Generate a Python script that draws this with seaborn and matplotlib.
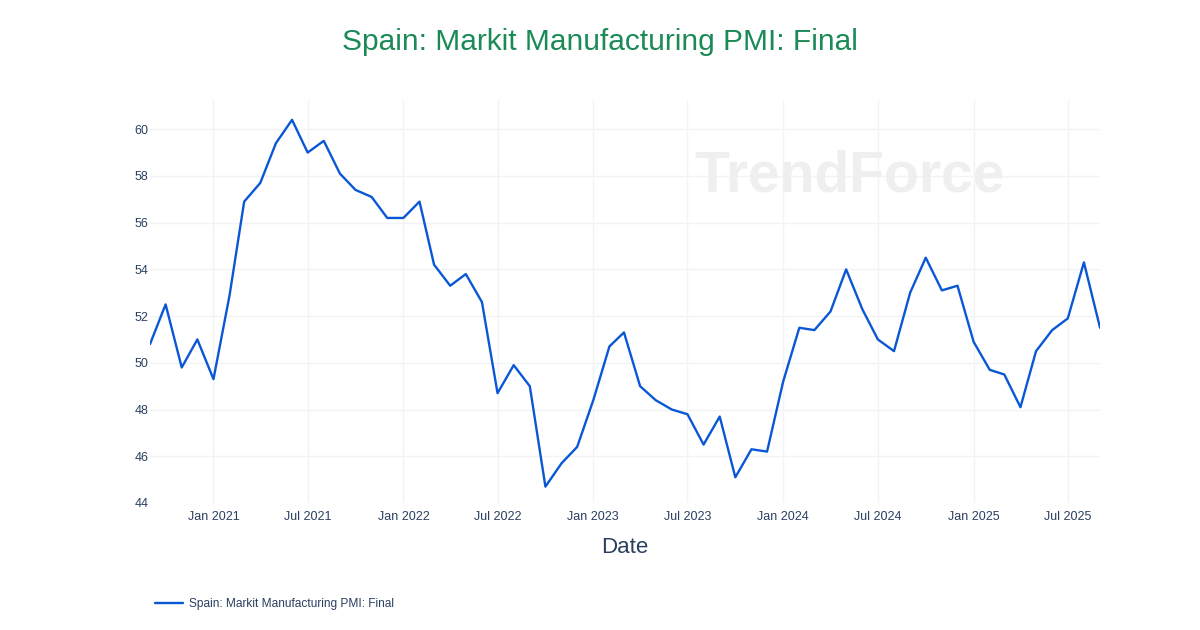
#!/usr/bin/env python3
"""
Line chart of Spain's Markit Manufacturing PMI (final), monthly.
"""
import matplotlib
matplotlib.use("Agg")
import matplotlib.pyplot as plt
import matplotlib.dates as mdates
import seaborn as sns
import pandas as pd

SERIES_NAME = "Spain: Markit Manufacturing PMI: Final"
START_MONTH = "2020-09-01"
PMI = [50.8, 52.5, 49.8, 51.0,
       49.3, 52.9, 56.9, 57.7, 59.4, 60.4, 59.0, 59.5, 58.1, 57.4, 57.1, 56.2,
       56.2, 56.9, 54.2, 53.3, 53.8, 52.6, 48.7, 49.9, 49.0, 44.7, 45.7, 46.4,
       48.4, 50.7, 51.3, 49.0, 48.4, 48.0, 47.8, 46.5, 47.7, 45.1, 46.3, 46.2,
       49.2, 51.5, 51.4, 52.2, 54.0, 52.3, 51.0, 50.5, 53.0, 54.5, 53.1, 53.3,
       50.9, 49.7, 49.5, 48.1, 50.5, 51.4, 51.9, 54.3, 51.5]
Y_TICKS = [44, 46, 48, 50, 52, 54, 56, 58, 60]

TEXT_COLOR = "#2a3f5f"
LINE_COLOR = "#0a57d6"
TITLE_COLOR = "#1b8a56"
GRID_COLOR = "#f2f3f5"

sns.set_theme(style="white")
plt.rcParams["font.family"] = ["Liberation Sans", "DejaVu Sans"]

dates = pd.date_range(START_MONTH, periods=len(PMI), freq="MS")
df = pd.DataFrame({"date": dates, "value": PMI})

fig = plt.figure(figsize=(12, 6.3), dpi=100)
ax = fig.add_axes([0.125, 0.2016, 0.7917, 0.6397])

# faint watermark behind the data
fig.text(0.708, 0.72, "TrendForce", fontsize=41, fontweight="bold",
         color="#efefef", ha="center", va="center", zorder=0)

sns.lineplot(data=df, x="date", y="value", ax=ax, color=LINE_COLOR,
             linewidth=1.7, label=SERIES_NAME)
ax.patch.set_alpha(0)

ax.set_xlim(dates[0], dates[-1])
ax.set_ylim(44, 61.25)
ax.set_yticks(Y_TICKS)
ax.xaxis.set_major_locator(mdates.MonthLocator(bymonth=[1, 7]))
ax.xaxis.set_major_formatter(mdates.DateFormatter("%b %Y"))
ax.tick_params(axis="both", length=0, labelsize=9, labelcolor=TEXT_COLOR)
ax.tick_params(axis="x", pad=6)
ax.tick_params(axis="y", pad=1)
ax.grid(True, color=GRID_COLOR, linewidth=1)
for s in ax.spines.values():
    s.set_visible(False)

ax.set_xlabel("Date", fontsize=16, color=TEXT_COLOR, labelpad=10)
ax.set_ylabel("")
fig.suptitle(SERIES_NAME, fontsize=21.5, color=TITLE_COLOR, y=0.955)

ax.legend(loc="center left", bbox_to_anchor=(0.12, 0.041),
          bbox_transform=fig.transFigure, frameon=False, fontsize=8.6,
          labelcolor=TEXT_COLOR, handlelength=2.4, handletextpad=0.5)

fig.savefig("out.png", dpi=100)
